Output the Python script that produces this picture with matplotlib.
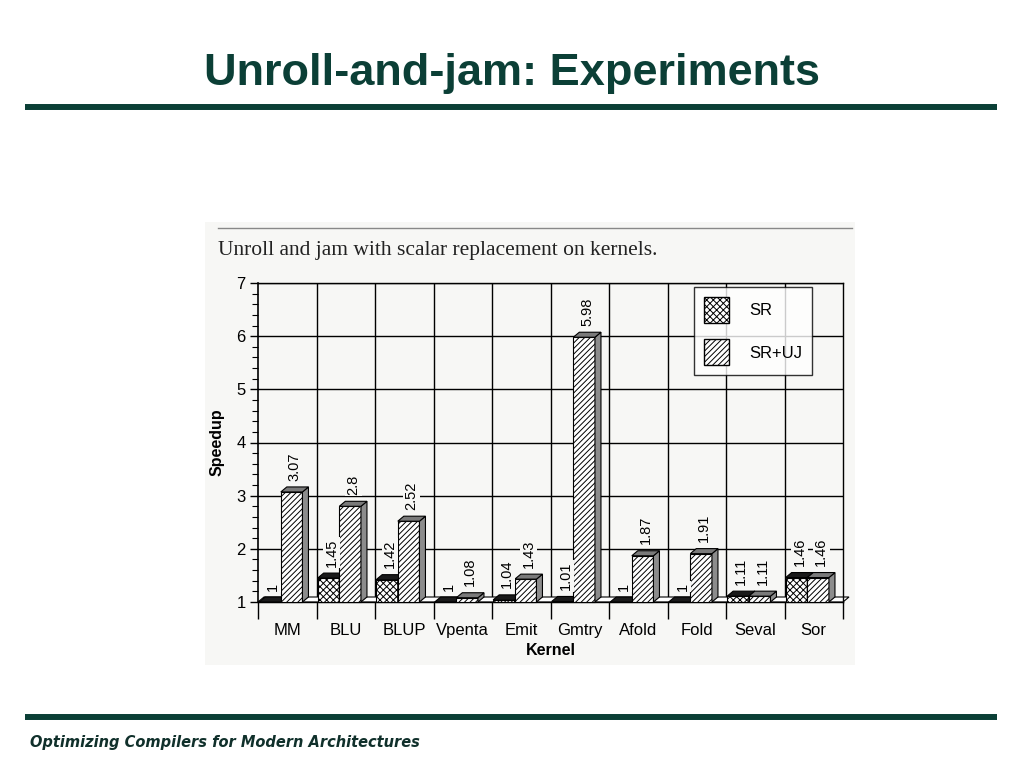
import matplotlib
matplotlib.use("Agg")
import matplotlib.pyplot as plt
from matplotlib.patches import Rectangle, Polygon, Patch
from matplotlib.lines import Line2D
from matplotlib.ticker import MultipleLocator, FixedLocator
import numpy as np

kernels = ["MM", "BLU", "BLUP", "Vpenta", "Emit", "Gmtry", "Afold", "Fold", "Seval", "Sor"]
sr = [1, 1.45, 1.42, 1, 1.04, 1.01, 1, 1, 1.11, 1.46]
sr_uj = [3.07, 2.8, 2.52, 1.08, 1.43, 5.98, 1.87, 1.91, 1.11, 1.46]
sr_labels = ["1", "1.45", "1.42", "1", "1.04", "1.01", "1", "1", "1.11", "1.46"]
uj_labels = ["3.07", "2.8", "2.52", "1.08", "1.43", "5.98", "1.87", "1.91", "1.11", "1.46"]

plt.rcParams['hatch.linewidth'] = 0.7
W, H = 1024, 768
fig = plt.figure(figsize=(W / 100, H / 100), dpi=100)
fig.patch.set_facecolor("white")

dark = "#0b3f36"

# Slide title and bars
fig.text(0.5, 1 - 74 / H, "Unroll-and-jam: Experiments", ha="center", va="center",
         fontsize=32.5, fontweight="bold", color=dark, family="Liberation Sans")
fig.add_artist(Line2D([25 / W, 997 / W], [1 - 107 / H] * 2, color=dark, lw=4.3, solid_capstyle="butt"))
fig.add_artist(Line2D([25 / W, 997 / W], [1 - 717 / H] * 2, color=dark, lw=4.3, solid_capstyle="butt"))
fig.text(30 / W, 1 - 743 / H, "Optimizing Compilers for Modern Architectures", ha="left", va="center",
         fontsize=10.5, fontweight="bold", fontstyle="italic", color="#10302b", family="DejaVu Sans")

# Scanned-figure background
fig.add_artist(Rectangle((205 / W, 1 - 665 / H), 650 / W, 443 / H, transform=fig.transFigure,
                         facecolor="#f7f7f5", edgecolor="none", zorder=0))
fig.add_artist(Line2D([218 / W, 852 / W], [1 - 228 / H] * 2, color="#888888", lw=1.0))
fig.text(218 / W, 1 - 250 / H, "Unroll and jam with scalar replacement on kernels.", ha="left",
         va="center", fontsize=15.5, family="Liberation Serif", color="#222222")

ax_l, ax_r, ax_t, ax_b = 258, 843, 283, 602
ax = fig.add_axes([ax_l / W, 1 - ax_b / H, (ax_r - ax_l) / W, (ax_b - ax_t) / H])
ax.set_facecolor("#f7f7f5")
n = len(kernels)
ax.set_xlim(-0.5, n - 0.5)
ax.set_ylim(1, 7)

# depth offset in data units
px_x = (ax_r - ax_l) / n
px_y = (ax_b - ax_t) / 6
dx = 6 / px_x
dy = 5 / px_y

# grid
for yv in range(2, 8):
    ax.axhline(yv, color="black", lw=1.0, zorder=1)
for i in range(1, n):
    ax.axvline(i - 0.5, color="black", lw=1.0, zorder=1)

# floor
floor = Polygon([(-0.5, 1), (n - 0.5, 1), (n - 0.5 + dx, 1 + dy), (-0.5 + dx, 1 + dy)],
                closed=True, facecolor="white", edgecolor="black", lw=0.8, zorder=2, clip_on=False)
ax.add_patch(floor)

w = 0.37
def bar3d(x0, v, hatch, topc, sidec, label):
    ax.add_patch(Rectangle((x0, 1), w, v - 1, facecolor="white", edgecolor="black",
                           hatch=hatch, lw=0.8, zorder=3, clip_on=False))
    side = Polygon([(x0 + w, 1), (x0 + w + dx, 1 + dy), (x0 + w + dx, v + dy), (x0 + w, v)],
                   closed=True, facecolor=sidec, edgecolor="black", lw=0.8, zorder=3, clip_on=False)
    top = Polygon([(x0, v), (x0 + w, v), (x0 + w + dx, v + dy), (x0 + dx, v + dy)],
                  closed=True, facecolor=topc, edgecolor="black", lw=0.8, zorder=3, clip_on=False)
    ax.add_patch(side)
    ax.add_patch(top)
    ax.text(x0 + w / 2 + dx / 2, v + dy + 0.12, label, rotation=90, ha="center", va="bottom",
            fontsize=10.5, family="Liberation Sans", zorder=4,
            bbox=dict(facecolor="#f7f7f5", edgecolor="none", pad=1.0))

for i in range(n):
    left = i - 0.5 + 0.02
    bar3d(left, sr[i], "xxxxx", "#1a1a1a", "#1a1a1a", sr_labels[i])
    bar3d(left + w, sr_uj[i], "//////", "#7a7a7a", "#8c8c8c", uj_labels[i])

# axes styling
for s in ["top", "right"]:
    ax.spines[s].set_linewidth(1.0)
ax.spines["left"].set_linewidth(1.2)
ax.spines["bottom"].set_linewidth(1.0)
ax.yaxis.set_major_locator(MultipleLocator(1))
ax.yaxis.set_minor_locator(MultipleLocator(0.2))
ax.tick_params(axis="y", which="major", length=6, width=1, labelsize=12, pad=3)
ax.tick_params(axis="y", which="minor", length=4, width=0.8)
ax.set_xticks(range(n))
ax.set_xticklabels(kernels, fontsize=12, family="Liberation Sans")
ax.xaxis.set_minor_locator(FixedLocator([i - 0.5 for i in range(n + 1)]))
ax.tick_params(axis="x", which="major", length=0, pad=15)
ax.tick_params(axis="x", which="minor", length=12, width=1)
for lab in ax.get_yticklabels():
    lab.set_family("Liberation Sans")
ax.set_ylabel("Speedup", fontsize=11.5, fontweight="bold", family="Liberation Sans", labelpad=8)
ax.set_xlabel("Kernel", fontsize=11.5, fontweight="bold", family="Liberation Sans", labelpad=4)

handles = [Patch(facecolor="white", edgecolor="black", hatch="xxxxx", label="SR"),
           Patch(facecolor="white", edgecolor="black", hatch="//////", label="SR+UJ")]
leg = ax.legend(handles=handles, loc="upper right",
                bbox_to_anchor=((812 - ax_l) / (ax_r - ax_l), (ax_b - 287) / (ax_b - ax_t)),
                fontsize=12, frameon=True, fancybox=False, edgecolor="black",
                handlelength=1.5, handleheight=2.0, labelspacing=1.0, borderpad=0.6,
                handletextpad=1.2, borderaxespad=0)
leg.get_frame().set_linewidth(1.0)
leg.get_frame().set_facecolor("white")
leg.set_zorder(5)
for t in leg.get_texts():
    t.set_family("Liberation Sans")

fig.savefig("out.png", dpi=100, facecolor="white")
